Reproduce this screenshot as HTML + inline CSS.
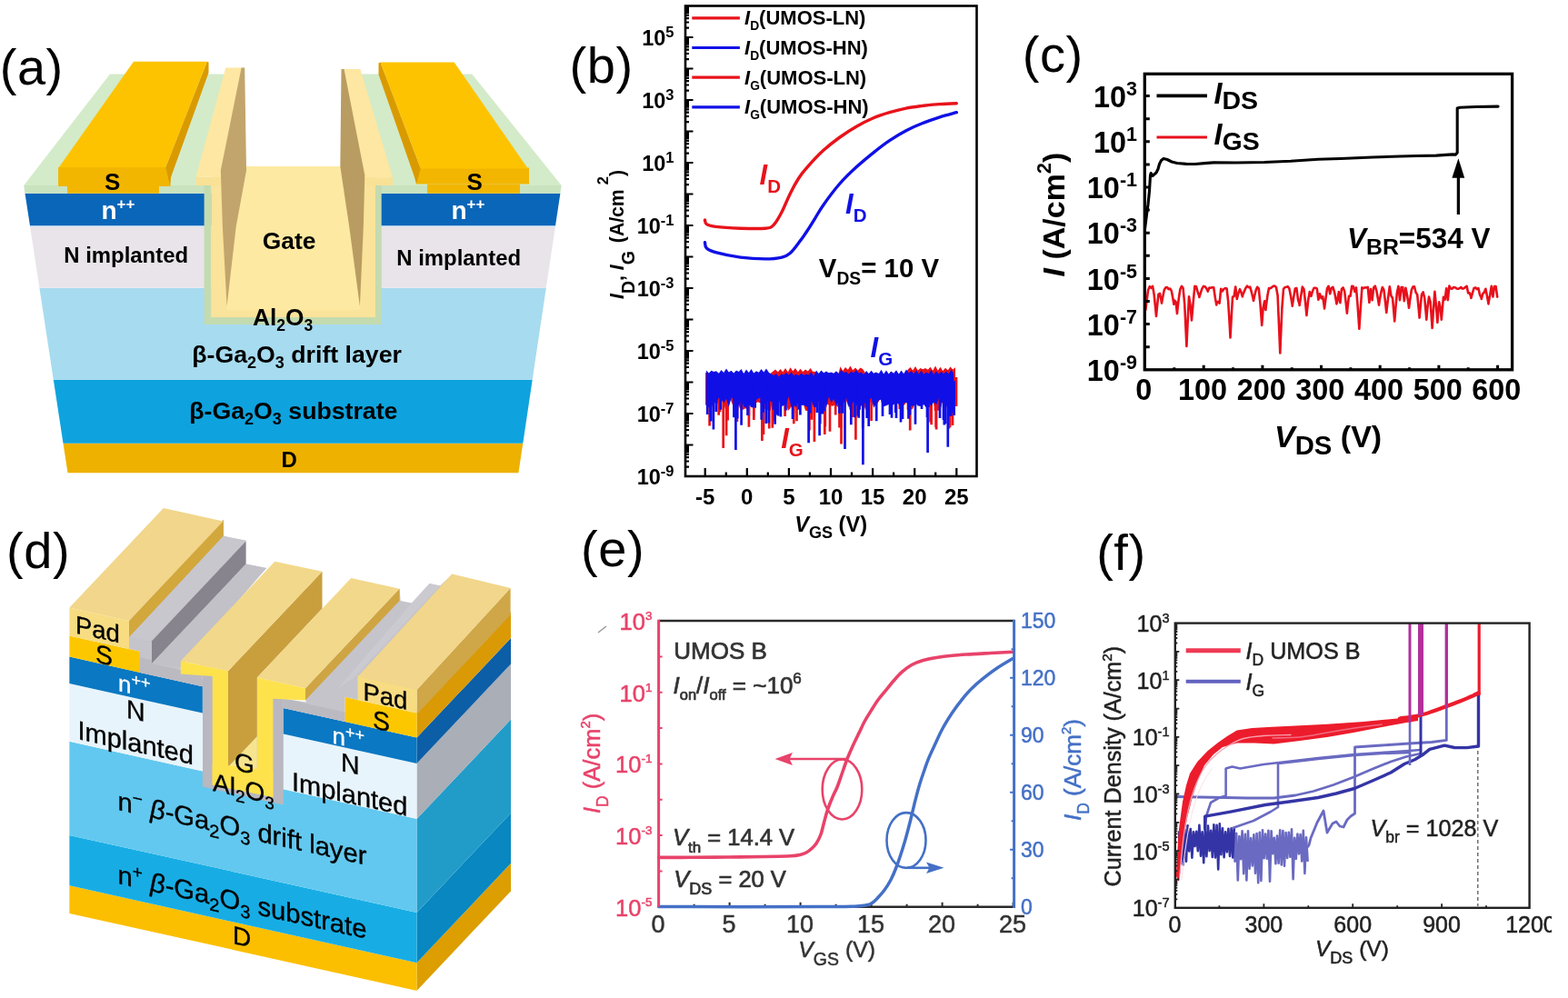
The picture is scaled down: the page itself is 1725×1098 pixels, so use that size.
<!DOCTYPE html>
<html><head><meta charset="utf-8"><title>UMOS figure</title>
<style>html,body{margin:0;padding:0;background:#fff;overflow:hidden}svg{display:block}text{font-family:'Liberation Sans', sans-serif}</style>
</head><body>
<svg width="1725" height="1098" viewBox="0 0 1725 1098">
<rect width="1725" height="1098" fill="#fff"/>
<polygon points="776.0,409.2 778.8,412.7 781.5,410.4 784.2,412.0 787.0,409.3 789.8,414.0 792.5,411.0 795.2,413.3 798.0,410.4 800.8,413.0 803.5,410.5 806.2,413.5 809.0,409.4 811.8,413.7 814.5,410.7 817.2,413.4 820.0,409.7 822.8,412.9 825.5,411.1 828.2,412.3 831.0,411.4 833.8,413.3 836.5,410.0 839.2,412.7 842.0,410.3 844.8,413.4 847.5,411.1 850.2,408.8 853.0,406.6 855.8,409.3 858.5,406.1 861.2,409.2 864.0,404.9 866.8,409.2 869.5,404.3 872.2,408.3 875.0,404.9 877.8,409.2 880.5,405.8 883.2,408.9 886.0,406.6 888.8,408.5 891.5,404.9 894.2,408.7 897.0,409.1 899.8,413.2 902.5,408.6 905.2,412.6 908.0,411.2 910.8,412.9 913.5,410.4 916.2,413.1 919.0,411.3 921.8,412.9 924.5,403.2 927.2,408.0 930.0,404.1 932.8,406.8 935.5,402.6 938.2,407.3 941.0,404.4 943.8,407.4 946.5,404.6 949.2,406.0 952.0,410.5 954.8,412.5 957.5,410.3 960.2,412.7 963.0,409.6 965.8,412.6 968.5,410.8 971.2,413.1 974.0,409.4 976.8,413.6 979.5,409.1 982.2,413.4 985.0,409.5 987.8,413.7 990.5,411.1 993.2,412.7 996.0,411.2 998.8,406.5 1001.5,404.1 1004.2,407.6 1007.0,403.1 1009.8,407.6 1012.5,404.9 1015.2,406.3 1018.0,404.9 1020.8,406.7 1023.5,403.8 1026.2,407.8 1029.0,402.5 1031.8,407.8 1034.5,403.8 1037.2,407.9 1040.0,404.7 1042.8,407.3 1045.5,403.4 1048.2,406.5 1051.0,404.3 1051.0,442.0 1048.2,439.0 1045.5,442.8 1042.8,445.3 1040.0,449.7 1037.2,441.1 1034.5,451.3 1031.8,451.8 1029.0,451.2 1026.2,440.2 1023.5,443.7 1020.8,443.8 1018.0,441.8 1015.2,442.1 1012.5,442.8 1009.8,447.0 1007.0,441.9 1004.2,449.7 1001.5,440.7 998.8,439.7 996.0,444.3 993.2,447.1 990.5,440.4 987.8,444.1 985.0,442.7 982.2,439.4 979.5,444.1 976.8,441.3 974.0,441.1 971.2,448.3 968.5,438.4 965.8,443.3 963.0,446.3 960.2,442.4 957.5,442.5 954.8,444.4 952.0,451.5 949.2,438.8 946.5,448.3 943.8,442.9 941.0,444.5 938.2,438.8 935.5,446.6 932.8,446.1 930.0,438.2 927.2,445.3 924.5,442.2 921.8,448.1 919.0,445.1 916.2,446.7 913.5,446.3 910.8,445.3 908.0,443.3 905.2,451.4 902.5,450.1 899.8,440.2 897.0,443.7 894.2,438.4 891.5,439.1 888.8,452.0 886.0,451.7 883.2,442.6 880.5,438.6 877.8,438.6 875.0,448.8 872.2,440.1 869.5,449.2 866.8,451.9 864.0,438.9 861.2,446.0 858.5,441.0 855.8,446.0 853.0,451.5 850.2,440.3 847.5,451.9 844.8,451.0 842.0,450.7 839.2,446.2 836.5,443.4 833.8,442.2 831.0,444.1 828.2,441.0 825.5,439.4 822.8,451.1 820.0,449.2 817.2,450.9 814.5,450.3 811.8,444.6 809.0,438.4 806.2,446.3 803.5,438.9 800.8,448.4 798.0,450.2 795.2,440.1 792.5,444.7 789.8,444.6 787.0,441.3 784.2,449.7 781.5,438.9 778.8,446.5 776.0,445.6" fill="#e8131b" />
<path d="M778.0,421.0V445.0M781.0,421.0V452.0M795.7,421.0V492.9M799.1,421.0V479.2M829.3,421.0V462.0M838.4,421.0V485.0M840.0,421.0V478.0M849.8,416.5V470.7M876.5,416.5V463.3M895.9,416.5V486.0M907.3,421.0V478.0M913.0,421.0V474.7M919.2,421.0V456.5M925.5,415.0V488.4M941.4,415.0V483.8M1001.2,415.0V473.6M1029.0,415.0V452.0M1045.0,415.0V470.0M1048.0,415.0V468.0M1052.0,415.0V447.0M999.0,415.0V451.1M1024.6,415.0V467.3M1030.1,415.0V472.4M1023.5,415.0V464.4M780.6,421.0V468.6M824.1,421.0V457.5M958.6,421.0V463.1M890.4,416.5V473.5M944.7,415.0V458.5M846.2,421.0V471.5M907.8,421.0V469.6M873.4,416.5V454.9M923.5,415.0V470.4M823.9,421.0V469.8M1029.6,415.0V470.2M1002.6,415.0V450.2M949.2,415.0V471.6M790.7,421.0V456.8M850.6,416.5V463.2M892.9,416.5V461.8M989.8,421.0V450.0M792.0,421.0V453.2M811.1,421.0V451.7M1044.1,415.0V471.4M800.6,421.0V462.6M863.6,416.5V457.9M873.3,416.5V466.2M937.7,415.0V459.0M829.4,421.0V458.2M810.9,421.0V463.9" stroke="#e8131b" stroke-width="2.7" fill="none"/>
<polygon points="777.0,407.4 779.8,410.6 782.5,407.7 785.2,409.1 788.0,408.3 790.8,410.8 793.5,406.9 796.2,410.1 799.0,405.5 801.8,409.6 804.5,407.8 807.2,410.6 810.0,407.4 812.8,409.0 815.5,406.1 818.2,411.0 821.0,406.4 823.8,410.1 826.5,406.1 829.2,410.4 832.0,408.2 834.8,409.7 837.5,405.9 840.2,409.6 843.0,405.5 845.8,409.7 848.5,411.5 851.2,413.1 854.0,411.1 856.8,414.5 859.5,411.2 862.2,412.5 865.0,410.1 867.8,412.5 870.5,409.5 873.2,412.9 876.0,411.8 878.8,413.2 881.5,410.6 884.2,412.7 887.0,411.4 889.8,412.6 892.5,409.3 895.2,413.7 898.0,407.5 900.8,411.1 903.5,407.5 906.2,410.2 909.0,408.6 911.8,410.3 914.5,409.5 917.2,410.8 920.0,408.3 922.8,410.9 925.5,406.7 928.2,410.1 931.0,409.0 933.8,411.5 936.5,408.4 939.2,410.2 942.0,406.9 944.8,410.6 947.5,409.5 950.2,412.0 953.0,408.0 955.8,411.0 958.5,407.7 961.2,410.8 964.0,409.4 966.8,411.0 969.5,406.8 972.2,411.6 975.0,407.6 977.8,411.5 980.5,408.5 983.2,410.7 986.0,407.3 988.8,411.5 991.5,407.4 994.2,411.3 997.0,406.5 999.8,410.5 1002.5,407.9 1005.2,411.3 1008.0,407.5 1010.8,411.5 1013.5,407.6 1016.2,411.7 1019.0,409.4 1021.8,411.0 1024.5,407.0 1027.2,411.9 1030.0,408.6 1032.8,411.5 1035.5,408.8 1038.2,411.3 1041.0,408.4 1043.8,411.3 1046.5,406.6 1049.2,410.9 1049.2,444.5 1046.5,438.1 1043.8,445.4 1041.0,446.1 1038.2,441.5 1035.5,443.6 1032.8,438.2 1030.0,445.4 1027.2,442.2 1024.5,446.9 1021.8,442.9 1019.0,448.4 1016.2,444.9 1013.5,447.0 1010.8,446.8 1008.0,444.4 1005.2,446.4 1002.5,446.6 999.8,444.7 997.0,443.1 994.2,443.5 991.5,448.3 988.8,445.0 986.0,442.3 983.2,445.2 980.5,445.9 977.8,445.0 975.0,446.2 972.2,447.3 969.5,439.5 966.8,440.4 964.0,444.2 961.2,448.8 958.5,437.9 955.8,439.8 953.0,445.5 950.2,441.9 947.5,447.1 944.8,441.9 942.0,447.0 939.2,441.6 936.5,446.2 933.8,448.3 931.0,437.7 928.2,442.4 925.5,447.9 922.8,441.5 920.0,446.7 917.2,439.1 914.5,442.9 911.8,436.6 909.0,449.0 906.2,437.9 903.5,438.3 900.8,440.1 898.0,448.0 895.2,447.9 892.5,440.4 889.8,448.3 887.0,447.2 884.2,445.7 881.5,446.1 878.8,440.6 876.0,448.2 873.2,445.8 870.5,448.4 867.8,436.6 865.0,443.5 862.2,446.2 859.5,447.0 856.8,436.3 854.0,436.7 851.2,442.3 848.5,442.2 845.8,440.0 843.0,444.8 840.2,443.8 837.5,436.8 834.8,438.2 832.0,439.9 829.2,448.6 826.5,448.2 823.8,444.8 821.0,448.5 818.2,447.3 815.5,438.8 812.8,447.3 810.0,437.6 807.2,437.8 804.5,438.1 801.8,447.9 799.0,438.8 796.2,443.5 793.5,439.2 790.8,437.5 788.0,444.4 785.2,442.1 782.5,448.0 779.8,448.3 777.0,445.6" fill="#1010e6" />
<path d="M784.9,418.0V472.4M809.4,418.0V495.1M815.6,418.0V467.8M822.5,418.0V457.0M845.8,418.0V465.6M872.0,421.5V461.0M889.6,421.5V487.2M901.6,419.0V479.2M929.5,419.0V494.0M935.8,419.0V450.8M949.4,419.0V511.2M955.7,419.0V469.0M964.2,419.0V463.3M971.0,419.0V458.0M979.0,419.0V456.0M986.0,419.0V460.0M993.0,419.0V461.0M1007.0,419.0V466.8M1014.0,419.0V450.0M1020.6,419.0V498.0M1034.0,419.0V460.0M1038.0,419.0V462.0M1042.8,419.0V491.8M1049.6,419.0V457.0M837.7,418.0V461.7M949.9,419.0V448.8M906.5,419.0V452.5M792.8,418.0V450.7M864.5,421.5V451.6M830.7,418.0V448.7M904.8,419.0V455.6M944.7,419.0V459.8M842.8,418.0V466.1M778.2,418.0V456.1M853.9,421.5V456.2M809.4,418.0V464.6M879.9,421.5V448.7M945.2,419.0V449.9M926.6,419.0V454.8M936.3,419.0V467.2M1001.0,419.0V456.4M999.5,419.0V460.8M878.7,421.5V450.8M940.4,419.0V459.3M1038.8,419.0V467.4M943.8,419.0V455.0M1021.5,419.0V448.0M807.4,418.0V459.3M945.6,419.0V450.8M949.5,419.0V465.8M880.4,421.5V456.6M839.7,418.0V453.8M1043.0,419.0V455.6M1039.9,419.0V466.3M940.4,419.0V453.2M1045.3,419.0V457.9M891.2,421.5V454.4M1046.2,419.0V457.8M856.0,421.5V457.5M811.2,418.0V460.4M898.8,419.0V453.9M991.0,419.0V464.5M781.6,418.0V458.7M852.6,421.5V466.7M991.1,419.0V452.9M850.9,421.5V451.1M1047.5,419.0V453.9M943.7,419.0V457.5M953.7,419.0V460.1M980.6,419.0V450.4M985.2,419.0V454.0M923.4,419.0V454.7M858.9,421.5V458.6M904.5,419.0V455.2M981.0,419.0V459.8M787.9,418.0V453.0M902.2,419.0V466.3M1020.0,419.0V458.9M782.0,418.0V463.6" stroke="#1010e6" stroke-width="2.7" fill="none"/>
<path d="M775.5,242.1 C775.8,242.8 775.3,245.4 777.3,246.6 C779.3,247.8 781.1,248.6 787.3,249.4 C793.5,250.2 805.5,250.9 814.6,251.2 C823.7,251.5 835.9,251.8 842.0,251.2 C848.1,250.6 848.1,250.5 851.1,247.5 C854.1,244.5 857.2,238.8 860.2,233.0 C863.2,227.2 866.3,219.0 869.3,212.9 C872.3,206.8 875.4,201.2 878.4,196.5 C881.4,191.8 883.0,189.8 887.5,184.7 C892.0,179.5 899.6,171.2 905.7,165.6 C911.8,160.0 917.8,155.4 923.9,151.0 C930.0,146.6 936.0,142.7 942.1,139.2 C948.2,135.7 954.3,132.6 960.4,130.0 C966.5,127.4 972.5,125.5 978.6,123.7 C984.7,121.9 990.7,120.3 996.8,119.1 C1002.9,117.9 1008.9,117.2 1015.0,116.4 C1021.1,115.7 1027.0,115.0 1033.2,114.6 C1039.4,114.1 1049.1,113.8 1052.3,113.7" fill="none" stroke="#e8131b" stroke-width="3.4" stroke-linecap="round" stroke-linejoin="round" />
<path d="M775.5,266.7 C775.8,267.8 775.3,271.2 777.3,273.0 C779.3,274.8 781.1,275.9 787.3,277.6 C793.5,279.3 805.5,281.9 814.6,283.1 C823.7,284.3 834.4,284.9 842.0,284.9 C849.6,284.9 855.7,284.2 860.2,283.1 C864.8,282.0 866.3,281.1 869.3,278.5 C872.3,275.9 875.4,271.6 878.4,267.6 C881.4,263.7 884.5,259.4 887.5,254.8 C890.5,250.2 893.6,245.2 896.6,240.3 C899.6,235.5 901.2,232.1 905.7,225.7 C910.2,219.3 917.8,209.0 923.9,202.0 C930.0,195.0 936.0,189.4 942.1,183.8 C948.2,178.2 954.3,173.2 960.4,168.3 C966.5,163.4 972.5,158.7 978.6,154.6 C984.7,150.5 990.7,146.9 996.8,143.7 C1002.9,140.5 1008.9,137.9 1015.0,135.5 C1021.1,133.1 1027.0,131.1 1033.2,129.1 C1039.4,127.1 1049.1,124.6 1052.3,123.7" fill="none" stroke="#1010e6" stroke-width="3.4" stroke-linecap="round" stroke-linejoin="round" />
<line x1="761.3" y1="19.8" x2="813.9" y2="19.8" stroke="#e8131b" stroke-width="3.2" />
<text x="819" y="27.4" font-size="22" font-weight="bold" font-style="normal" text-anchor="start" fill="#000" ><tspan font-style="italic">I</tspan><tspan font-size="13.8" baseline-shift="-5.5" font-style="normal">D</tspan>(UMOS-LN)</text>
<line x1="761.3" y1="52.5" x2="813.9" y2="52.5" stroke="#1010e6" stroke-width="3.2" />
<text x="819" y="60.07" font-size="22" font-weight="bold" font-style="normal" text-anchor="start" fill="#000" ><tspan font-style="italic">I</tspan><tspan font-size="13.8" baseline-shift="-5.5" font-style="normal">D</tspan>(UMOS-HN)</text>
<line x1="761.3" y1="85.1" x2="813.9" y2="85.1" stroke="#e8131b" stroke-width="3.2" />
<text x="819" y="92.74" font-size="22" font-weight="bold" font-style="normal" text-anchor="start" fill="#000" ><tspan font-style="italic">I</tspan><tspan font-size="13.8" baseline-shift="-5.5" font-style="normal">G</tspan>(UMOS-LN)</text>
<line x1="761.3" y1="117.8" x2="813.9" y2="117.8" stroke="#1010e6" stroke-width="3.2" />
<text x="819" y="125.41" font-size="22" font-weight="bold" font-style="normal" text-anchor="start" fill="#000" ><tspan font-style="italic">I</tspan><tspan font-size="13.8" baseline-shift="-5.5" font-style="normal">G</tspan>(UMOS-HN)</text>
<rect x="754.0" y="6.5" width="320.5" height="517.5" fill="none" stroke="#000" stroke-width="2.6"/>
<path d="M754.0,524.0h8.5M754.0,513.6h4M754.0,507.5h4M754.0,503.2h4M754.0,499.9h4M754.0,497.2h4M754.0,494.8h4M754.0,492.8h4M754.0,491.1h4M754.0,489.5h8.5M754.0,479.1h4M754.0,473.0h4M754.0,468.7h4M754.0,465.4h4M754.0,462.7h4M754.0,460.3h4M754.0,458.3h4M754.0,456.6h4M754.0,455.0h8.5M754.0,444.6h4M754.0,438.5h4M754.0,434.2h4M754.0,430.9h4M754.0,428.2h4M754.0,425.8h4M754.0,423.8h4M754.0,422.1h4M754.0,420.5h8.5M754.0,410.1h4M754.0,404.0h4M754.0,399.7h4M754.0,396.4h4M754.0,393.7h4M754.0,391.3h4M754.0,389.3h4M754.0,387.6h4M754.0,386.0h8.5M754.0,375.6h4M754.0,369.5h4M754.0,365.2h4M754.0,361.9h4M754.0,359.2h4M754.0,356.8h4M754.0,354.8h4M754.0,353.1h4M754.0,351.5h8.5M754.0,341.1h4M754.0,335.0h4M754.0,330.7h4M754.0,327.4h4M754.0,324.7h4M754.0,322.3h4M754.0,320.3h4M754.0,318.6h4M754.0,317.0h8.5M754.0,306.6h4M754.0,300.5h4M754.0,296.2h4M754.0,292.9h4M754.0,290.2h4M754.0,287.8h4M754.0,285.8h4M754.0,284.1h4M754.0,282.5h8.5M754.0,272.1h4M754.0,266.0h4M754.0,261.7h4M754.0,258.4h4M754.0,255.7h4M754.0,253.3h4M754.0,251.3h4M754.0,249.6h4M754.0,248.0h8.5M754.0,237.6h4M754.0,231.5h4M754.0,227.2h4M754.0,223.9h4M754.0,221.2h4M754.0,218.8h4M754.0,216.8h4M754.0,215.1h4M754.0,213.5h8.5M754.0,203.1h4M754.0,197.0h4M754.0,192.7h4M754.0,189.4h4M754.0,186.7h4M754.0,184.3h4M754.0,182.3h4M754.0,180.6h4M754.0,179.0h8.5M754.0,168.6h4M754.0,162.5h4M754.0,158.2h4M754.0,154.9h4M754.0,152.2h4M754.0,149.8h4M754.0,147.8h4M754.0,146.1h4M754.0,144.5h8.5M754.0,134.1h4M754.0,128.0h4M754.0,123.7h4M754.0,120.4h4M754.0,117.7h4M754.0,115.3h4M754.0,113.3h4M754.0,111.6h4M754.0,110.0h8.5M754.0,99.6h4M754.0,93.5h4M754.0,89.2h4M754.0,85.9h4M754.0,83.2h4M754.0,80.8h4M754.0,78.8h4M754.0,77.1h4M754.0,75.5h8.5M754.0,65.1h4M754.0,59.0h4M754.0,54.7h4M754.0,51.4h4M754.0,48.7h4M754.0,46.3h4M754.0,44.3h4M754.0,42.6h4M754.0,41.0h8.5M754.0,30.6h4M754.0,24.5h4M754.0,20.2h4M754.0,16.9h4M754.0,14.2h4M754.0,11.8h4M754.0,9.8h4M754.0,8.1h4M775.7,524.0v-9M821.8,524.0v-9M867.9,524.0v-9M914.0,524.0v-9M960.1,524.0v-9M1006.2,524.0v-9M1052.3,524.0v-9M798.8,524.0v-4.5M844.8,524.0v-4.5M890.9,524.0v-4.5M937.0,524.0v-4.5M983.1,524.0v-4.5M1029.2,524.0v-4.5" stroke="#000" stroke-width="2.2" fill="none"/>
<text x="741.5" y="49.6" font-size="23.5" font-weight="bold" font-style="normal" text-anchor="end" fill="#000" >10<tspan font-size="16.5" baseline-shift="9.5">5</tspan></text>
<text x="741.5" y="118.6" font-size="23.5" font-weight="bold" font-style="normal" text-anchor="end" fill="#000" >10<tspan font-size="16.5" baseline-shift="9.5">3</tspan></text>
<text x="741.5" y="187.6" font-size="23.5" font-weight="bold" font-style="normal" text-anchor="end" fill="#000" >10<tspan font-size="16.5" baseline-shift="9.5">1</tspan></text>
<text x="741.5" y="256.6" font-size="23.5" font-weight="bold" font-style="normal" text-anchor="end" fill="#000" >10<tspan font-size="16.5" baseline-shift="9.5">-1</tspan></text>
<text x="741.5" y="325.6" font-size="23.5" font-weight="bold" font-style="normal" text-anchor="end" fill="#000" >10<tspan font-size="16.5" baseline-shift="9.5">-3</tspan></text>
<text x="741.5" y="394.6" font-size="23.5" font-weight="bold" font-style="normal" text-anchor="end" fill="#000" >10<tspan font-size="16.5" baseline-shift="9.5">-5</tspan></text>
<text x="741.5" y="463.6" font-size="23.5" font-weight="bold" font-style="normal" text-anchor="end" fill="#000" >10<tspan font-size="16.5" baseline-shift="9.5">-7</tspan></text>
<text x="741.5" y="532.6" font-size="23.5" font-weight="bold" font-style="normal" text-anchor="end" fill="#000" >10<tspan font-size="16.5" baseline-shift="9.5">-9</tspan></text>
<text x="775.6999999999999" y="554.6" font-size="24" font-weight="bold" font-style="normal" text-anchor="middle" fill="#000" >-5</text>
<text x="821.8" y="554.6" font-size="24" font-weight="bold" font-style="normal" text-anchor="middle" fill="#000" >0</text>
<text x="867.9" y="554.6" font-size="24" font-weight="bold" font-style="normal" text-anchor="middle" fill="#000" >5</text>
<text x="914.0" y="554.6" font-size="24" font-weight="bold" font-style="normal" text-anchor="middle" fill="#000" >10</text>
<text x="960.0999999999999" y="554.6" font-size="24" font-weight="bold" font-style="normal" text-anchor="middle" fill="#000" >15</text>
<text x="1006.1999999999999" y="554.6" font-size="24" font-weight="bold" font-style="normal" text-anchor="middle" fill="#000" >20</text>
<text x="1052.3" y="554.6" font-size="24" font-weight="bold" font-style="normal" text-anchor="middle" fill="#000" >25</text>
<text x="874.3" y="584.6" font-size="23.6" font-weight="bold" font-style="normal" text-anchor="start" fill="#000" ><tspan font-style="italic">V</tspan><tspan font-size="18" baseline-shift="-7.3" font-style="normal">GS</tspan> (V)</text>
<text x="685.5" y="329" font-size="21.2" font-weight="bold" font-style="normal" text-anchor="start" fill="#000" transform="rotate(-90 685.5 329)" ><tspan font-style="italic">I</tspan><tspan font-size="19.5" baseline-shift="-12" font-style="normal">D</tspan>, <tspan font-style="italic">I</tspan><tspan font-size="19.5" baseline-shift="-12" font-style="normal">G</tspan><tspan dx="9">(A/cm</tspan><tspan dx="5" font-size="16.5" baseline-shift="17">2</tspan>)</text>
<text x="835.5" y="203.3" font-size="31" font-weight="bold" font-style="normal" text-anchor="start" fill="#e8131b" ><tspan font-style="italic">I</tspan><tspan font-size="20.5" baseline-shift="-8.6" font-style="normal">D</tspan></text>
<text x="930" y="235.3" font-size="31" font-weight="bold" font-style="normal" text-anchor="start" fill="#1010e6" ><tspan font-style="italic">I</tspan><tspan font-size="20.5" baseline-shift="-8.6" font-style="normal">D</tspan></text>
<text x="957.6" y="393.4" font-size="31" font-weight="bold" font-style="normal" text-anchor="start" fill="#1010e6" ><tspan font-style="italic">I</tspan><tspan font-size="20.5" baseline-shift="-9" font-style="normal">G</tspan></text>
<text x="859.2" y="493.1" font-size="31" font-weight="bold" font-style="normal" text-anchor="start" fill="#e8131b" ><tspan font-style="italic">I</tspan><tspan font-size="20.5" baseline-shift="-8.6" font-style="normal">G</tspan></text>
<text x="900.8" y="305.4" font-size="29.4" font-weight="bold" font-style="normal" text-anchor="start" fill="#000" >V<tspan font-size="19.3" baseline-shift="-8" font-style="normal">DS</tspan>= 10 V</text>
<polyline points="1260.0,337.8 1260.3,341.0 1261.6,330.5 1263.2,318.7 1264.8,315.2 1266.4,316.8 1268.0,314.8 1269.6,323.8 1271.2,339.3 1272.0,348.0 1272.8,339.3 1274.4,323.8 1276.0,322.9 1277.6,330.7 1278.0,333.6 1279.2,326.8 1280.8,319.0 1282.4,316.3 1284.0,316.1 1285.6,318.1 1287.2,317.5 1288.8,320.1 1290.4,328.5 1291.4,334.8 1292.0,330.6 1293.6,331.9 1295.0,345.0 1295.2,342.3 1296.8,328.4 1298.4,318.0 1300.0,314.8 1301.6,317.3 1303.2,334.5 1304.8,367.6 1305.4,381.0 1306.4,359.3 1308.0,326.3 1309.6,335.9 1311.0,352.5 1311.2,349.3 1312.8,331.4 1314.4,314.9 1316.0,315.3 1317.6,321.2 1319.2,325.5 1319.4,327.0 1320.8,322.3 1322.4,317.6 1324.0,314.9 1325.6,315.3 1327.2,317.3 1328.8,320.6 1330.4,316.6 1332.0,316.7 1333.6,316.1 1335.2,316.2 1336.8,327.2 1338.3,335.4 1338.4,333.9 1340.0,331.9 1341.6,333.6 1343.2,317.7 1344.8,320.3 1346.4,318.0 1348.0,317.0 1349.6,317.5 1351.2,331.8 1352.8,358.2 1353.5,371.4 1354.4,354.7 1356.0,326.7 1357.6,326.1 1359.2,315.5 1360.8,329.0 1362.4,322.5 1364.0,318.2 1365.6,322.1 1366.9,326.3 1367.2,324.6 1368.8,320.7 1370.4,317.0 1372.0,314.6 1373.6,316.2 1375.2,315.6 1376.8,321.2 1378.4,327.6 1379.0,331.0 1380.0,326.0 1381.6,319.6 1383.2,315.8 1384.8,317.7 1386.4,333.6 1388.0,354.4 1388.2,358.0 1389.6,338.8 1391.2,331.2 1392.4,341.0 1392.8,337.1 1394.4,325.3 1396.0,317.1 1397.6,317.1 1399.2,316.1 1400.8,314.8 1402.4,314.6 1404.0,316.2 1405.6,324.9 1407.2,362.0 1408.3,388.4 1408.8,375.8 1410.4,338.8 1412.0,317.8 1413.6,316.1 1415.2,315.7 1416.8,315.2 1418.4,317.4 1420.0,325.7 1421.6,335.1 1421.7,336.7 1423.2,326.9 1424.8,317.5 1426.4,317.1 1428.0,329.6 1429.6,335.0 1429.6,336.0 1431.2,325.9 1432.8,315.6 1434.4,318.0 1436.0,332.0 1437.5,347.0 1437.6,345.1 1439.2,330.1 1440.8,321.0 1442.4,325.8 1444.0,320.3 1445.6,316.8 1447.2,316.8 1448.8,317.4 1450.4,329.8 1452.0,323.3 1453.6,328.2 1455.2,326.2 1456.8,337.1 1457.0,339.5 1458.4,328.9 1460.0,317.4 1461.6,314.8 1463.2,323.2 1464.8,316.8 1466.4,315.9 1468.0,321.1 1469.6,329.3 1470.4,334.4 1471.2,331.8 1472.8,321.1 1474.4,333.2 1476.0,318.0 1477.6,316.4 1479.2,320.6 1480.8,334.2 1481.9,344.6 1482.4,339.3 1484.0,325.7 1485.6,325.7 1487.2,314.7 1488.8,315.1 1490.4,321.0 1492.0,316.4 1493.6,336.5 1495.2,359.4 1495.3,361.8 1496.8,339.4 1498.4,316.4 1500.0,317.1 1501.6,316.4 1503.2,316.5 1504.8,315.9 1506.4,332.8 1508.0,318.0 1509.6,330.3 1511.2,316.3 1512.8,314.6 1514.4,320.2 1516.0,329.1 1517.0,335.6 1517.6,331.3 1519.2,322.4 1520.8,316.0 1522.4,318.8 1524.0,332.2 1525.3,344.0 1525.6,340.5 1527.2,327.2 1528.8,315.2 1530.4,325.5 1532.0,327.8 1533.6,345.6 1534.2,353.5 1535.2,341.0 1536.8,322.6 1538.4,314.9 1540.0,330.2 1541.6,316.1 1543.2,316.0 1544.8,331.1 1546.4,316.8 1548.0,324.6 1549.6,335.2 1550.0,338.8 1551.2,329.9 1552.8,319.3 1554.4,315.6 1556.0,315.3 1557.6,321.7 1559.2,324.1 1560.8,340.5 1561.6,349.7 1562.4,340.5 1564.0,324.1 1565.6,321.4 1567.2,327.8 1568.8,345.2 1569.3,351.6 1570.4,338.6 1572.0,326.6 1573.6,332.0 1575.2,354.4 1575.6,361.0 1576.8,343.2 1578.4,320.8 1580.0,337.1 1581.4,354.8 1581.6,351.4 1583.2,332.3 1584.8,339.7 1585.8,351.6 1586.4,344.1 1588.0,326.7 1589.6,329.6 1591.2,317.2 1592.8,330.1 1594.4,314.6 1596.0,317.4 1597.6,317.6 1599.2,316.0 1600.8,316.3 1602.4,317.4 1604.0,317.8 1605.6,317.3 1607.2,316.0 1608.8,317.7 1610.4,317.3 1612.0,316.0 1613.6,314.8 1615.2,322.5 1616.8,322.2 1618.4,327.0 1618.4,328.0 1620.0,322.2 1621.6,316.9 1623.2,316.4 1624.8,318.1 1626.4,317.0 1628.0,324.3 1629.6,327.3 1629.8,329.0 1631.2,323.3 1632.8,321.8 1634.4,317.8 1636.0,325.7 1637.5,334.4 1637.6,332.9 1639.2,324.7 1640.8,314.8 1642.4,326.5 1644.0,315.1 1645.6,315.1 1647.2,326.6" fill="none" stroke="#e8101c" stroke-width="2.6" stroke-linejoin="round" stroke-linecap="round" />
<polyline points="1259.5,252.0 1261.5,236.0 1263.0,225.0 1264.5,210.0 1265.5,193.0 1266.2,190.5 1268.0,193.5 1272.0,190.0 1274.0,186.0 1275.5,180.5 1277.5,176.5 1280.0,174.6 1284.0,175.5 1289.0,178.0 1295.0,179.5 1305.0,180.4 1315.0,180.5 1325.0,179.6 1335.0,178.9 1360.0,179.0 1391.0,178.5 1420.0,177.3 1450.0,175.3 1475.0,174.5 1510.0,173.0 1540.0,172.0 1558.8,171.5 1580.0,171.1 1598.0,169.9 1601.5,170.1 1603.2,168.0 1603.2,119.0 1606.2,118.2 1623.7,117.5 1648.1,117.1" fill="none" stroke="#000" stroke-width="3.1" stroke-linejoin="round" stroke-linecap="round" />
<line x1="1604.4" y1="236.0" x2="1604.4" y2="194.0" stroke="#000" stroke-width="3.3" />
<polygon points="1604.4,174.2 1597.4,195.8 1611.2,195.8" fill="#000" />
<line x1="1272.5" y1="105.4" x2="1328.0" y2="105.4" stroke="#000" stroke-width="3.6" />
<line x1="1272.5" y1="150.9" x2="1328.0" y2="150.9" stroke="#e8101c" stroke-width="3.0" />
<text x="1335.5" y="113.6" font-size="32.4" font-weight="bold" font-style="normal" text-anchor="start" fill="#000" ><tspan font-style="italic">I</tspan><tspan font-size="28.5" baseline-shift="-6.2" font-style="normal">DS</tspan></text>
<text x="1335.5" y="158.9" font-size="32.4" font-weight="bold" font-style="normal" text-anchor="start" fill="#000" ><tspan font-style="italic">I</tspan><tspan font-size="28.5" baseline-shift="-6.2" font-style="normal">GS</tspan></text>
<rect x="1259.3" y="81.3" width="404.29999999999995" height="325.5" fill="none" stroke="#000" stroke-width="3.3"/>
<path d="M1259.3,381.7h5.5M1259.3,356.6h5.5M1259.3,331.5h5.5M1259.3,306.4h5.5M1259.3,281.3h5.5M1259.3,256.2h5.5M1259.3,231.1h5.5M1259.3,206.0h5.5M1259.3,180.9h5.5M1259.3,155.8h5.5M1259.3,130.7h5.5M1259.3,105.6h5.5M1324.2,406.8v-5M1388.9,406.8v-5M1453.5,406.8v-5M1518.2,406.8v-5M1582.9,406.8v-5M1647.6,406.8v-5M1291.8,406.8v-2.5M1356.5,406.8v-2.5M1421.2,406.8v-2.5M1485.9,406.8v-2.5M1550.6,406.8v-2.5M1615.2,406.8v-2.5" stroke="#000" stroke-width="3" fill="none"/>
<text x="1251" y="117.8" font-size="32.4" font-weight="bold" font-style="normal" text-anchor="end" fill="#000" >10<tspan font-size="21.5" baseline-shift="12.8">3</tspan></text>
<text x="1251" y="168.0" font-size="32.4" font-weight="bold" font-style="normal" text-anchor="end" fill="#000" >10<tspan font-size="21.5" baseline-shift="12.8">1</tspan></text>
<text x="1251" y="218.2" font-size="32.4" font-weight="bold" font-style="normal" text-anchor="end" fill="#000" >10<tspan font-size="21.5" baseline-shift="12.8">-1</tspan></text>
<text x="1251" y="268.40000000000003" font-size="32.4" font-weight="bold" font-style="normal" text-anchor="end" fill="#000" >10<tspan font-size="21.5" baseline-shift="12.8">-3</tspan></text>
<text x="1251" y="318.59999999999997" font-size="32.4" font-weight="bold" font-style="normal" text-anchor="end" fill="#000" >10<tspan font-size="21.5" baseline-shift="12.8">-5</tspan></text>
<text x="1251" y="368.8" font-size="32.4" font-weight="bold" font-style="normal" text-anchor="end" fill="#000" >10<tspan font-size="21.5" baseline-shift="12.8">-7</tspan></text>
<text x="1251" y="419.00000000000006" font-size="32.4" font-weight="bold" font-style="normal" text-anchor="end" fill="#000" >10<tspan font-size="21.5" baseline-shift="12.8">-9</tspan></text>
<text x="1258.3" y="439.5" font-size="32.4" font-weight="bold" font-style="normal" text-anchor="middle" fill="#000" >0</text>
<text x="1322.98" y="439.5" font-size="32.4" font-weight="bold" font-style="normal" text-anchor="middle" fill="#000" >100</text>
<text x="1387.66" y="439.5" font-size="32.4" font-weight="bold" font-style="normal" text-anchor="middle" fill="#000" >200</text>
<text x="1452.34" y="439.5" font-size="32.4" font-weight="bold" font-style="normal" text-anchor="middle" fill="#000" >300</text>
<text x="1517.02" y="439.5" font-size="32.4" font-weight="bold" font-style="normal" text-anchor="middle" fill="#000" >400</text>
<text x="1581.7" y="439.5" font-size="32.4" font-weight="bold" font-style="normal" text-anchor="middle" fill="#000" >500</text>
<text x="1646.3799999999999" y="439.5" font-size="32.4" font-weight="bold" font-style="normal" text-anchor="middle" fill="#000" >600</text>
<text x="1402" y="492" font-size="34" font-weight="bold" font-style="normal" text-anchor="start" fill="#000" ><tspan font-style="italic">V</tspan><tspan font-size="29.3" baseline-shift="-8" font-style="normal">DS</tspan> (V)</text>
<text x="1171" y="304.5" font-size="34" font-weight="bold" font-style="normal" text-anchor="start" fill="#000" transform="rotate(-90 1171 304.5)" ><tspan font-style="italic">I</tspan> (A/cm<tspan font-size="22" baseline-shift="15">2</tspan>)</text>
<text x="1482" y="272.5" font-size="31.5" font-weight="bold" font-style="normal" text-anchor="start" fill="#000" ><tspan font-style="italic">V</tspan><tspan font-size="24.8" baseline-shift="-7.1" font-style="normal">BR</tspan>=534 V</text>
<line x1="724.6" y1="683.0" x2="1115.6" y2="683.0" stroke="#2a2a2a" stroke-width="2.6" />
<line x1="724.6" y1="997.8" x2="1115.6" y2="997.8" stroke="#2a2a2a" stroke-width="2.6" />
<path d="M802.6,997.8v-5M880.6,997.8v-5M958.6,997.8v-5M1036.6,997.8v-5M1114.6,997.8v-5M763.6,997.8v-3M841.6,997.8v-3M919.6,997.8v-3M997.6,997.8v-3M1075.6,997.8v-3" stroke="#2a2a2a" stroke-width="2" fill="none"/>
<path d="M724.6,997.6 C753.8,997.6 864.1,997.7 900.0,997.6 C935.9,997.5 931.3,997.5 940.0,997.2 C948.7,996.9 948.9,996.5 952.0,996.0 C955.1,995.5 956.2,995.5 958.4,994.2 C960.6,993.0 962.6,991.0 965.0,988.5 C967.4,986.0 970.5,982.7 973.0,979.3 C975.5,975.9 977.9,972.0 980.0,968.0 C982.1,964.0 983.9,959.7 985.7,955.0 C987.5,950.3 989.3,945.2 991.0,940.0 C992.7,934.8 994.3,929.6 996.0,923.8 C997.7,918.0 999.2,912.0 1001.0,905.0 C1002.8,898.0 1004.8,889.1 1006.6,881.9 C1008.4,874.7 1010.4,867.3 1012.0,862.0 C1013.6,856.7 1014.4,854.5 1016.0,850.0 C1017.6,845.5 1019.1,840.5 1021.4,834.8 C1023.7,829.1 1027.5,821.5 1030.0,816.0 C1032.5,810.5 1033.9,807.2 1036.7,802.0 C1039.5,796.8 1043.4,790.5 1047.0,785.0 C1050.6,779.5 1054.8,773.9 1058.5,769.3 C1062.2,764.7 1065.3,761.1 1069.0,757.5 C1072.7,753.9 1075.7,751.1 1080.4,747.4 C1085.1,743.6 1091.3,738.8 1097.0,735.0 C1102.7,731.2 1111.4,726.2 1114.3,724.5" fill="none" stroke="#4470c6" stroke-width="3.5" stroke-linecap="round" stroke-linejoin="round" />
<path d="M724.6,943.4 C730.5,943.4 747.4,943.4 760.0,943.3 C772.6,943.2 786.7,943.1 800.0,943.0 C813.3,942.9 828.3,942.7 840.0,942.5 C851.7,942.3 863.3,942.1 870.0,941.8 C876.7,941.5 877.2,941.1 880.0,940.5 C882.8,939.9 884.8,939.2 887.0,938.0 C889.2,936.8 891.2,935.2 893.0,933.5 C894.8,931.8 896.3,930.6 898.0,928.0 C899.7,925.4 901.6,921.8 903.0,918.0 C904.4,914.2 905.4,909.0 906.5,905.0 C907.6,901.0 908.4,897.5 909.5,894.0 C910.6,890.5 911.8,887.2 913.0,884.0 C914.2,880.8 915.7,877.5 917.0,874.5 C918.3,871.5 919.5,869.8 921.0,866.0 C922.5,862.2 924.2,857.1 926.0,852.0 C927.8,846.9 929.8,840.7 931.8,835.5 C933.8,830.3 935.8,825.9 938.0,821.0 C940.2,816.1 942.8,810.9 945.0,806.4 C947.2,801.9 948.8,798.0 951.0,794.0 C953.2,790.0 955.5,786.4 958.0,782.4 C960.5,778.4 963.1,774.0 966.0,770.0 C968.9,766.0 972.5,762.0 975.5,758.3 C978.5,754.6 981.1,751.3 984.0,748.0 C986.9,744.7 989.8,741.5 993.0,738.7 C996.2,736.0 999.4,733.5 1003.0,731.5 C1006.6,729.5 1010.3,728.0 1014.8,726.7 C1019.3,725.4 1024.5,724.4 1030.0,723.5 C1035.5,722.6 1040.9,721.9 1047.6,721.2 C1054.3,720.6 1062.9,720.1 1070.0,719.6 C1077.1,719.1 1082.6,718.9 1090.0,718.5 C1097.4,718.1 1110.2,717.5 1114.3,717.3" fill="none" stroke="#e8436a" stroke-width="3.6" stroke-linecap="round" stroke-linejoin="round" />
<line x1="724.6" y1="681.8" x2="724.6" y2="997.8" stroke="#e8436a" stroke-width="3.0" />
<line x1="1115.6" y1="681.8" x2="1115.6" y2="999.0" stroke="#4470c6" stroke-width="3.0" />
<path d="M724.6,958.5h4M724.6,919.1h4M724.6,879.8h4M724.6,840.4h4M724.6,801.0h4M724.6,761.7h4M724.6,722.4h4" stroke="#e8436a" stroke-width="2" fill="none"/>
<path d="M1115.6,934.8h-4.5M1115.6,871.8h-4.5M1115.6,808.8h-4.5M1115.6,745.8h-4.5M1115.6,966.3h-3M1115.6,903.3h-3M1115.6,840.3h-3M1115.6,777.3h-3M1115.6,714.3h-3" stroke="#4470c6" stroke-width="2" fill="none"/>
<ellipse cx="926.5" cy="868.5" rx="21.8" ry="33" fill="none" stroke="#e8436a" stroke-width="2.6"/>
<line x1="931.8" y1="835.0" x2="866.0" y2="835.0" stroke="#e8436a" stroke-width="2.6" />
<polygon points="852.5,835.0 872.0,828.0 868.5,835.0 872.0,842.0" fill="#e8436a" />
<ellipse cx="997" cy="924.5" rx="21.5" ry="30.4" fill="none" stroke="#4470c6" stroke-width="2.6"/>
<line x1="998.0" y1="954.8" x2="1024.0" y2="954.8" stroke="#4470c6" stroke-width="2.6" />
<polygon points="1038.5,954.8 1019.0,948.5 1022.5,954.8 1019.0,961.0" fill="#4470c6" />
<text x="717.5" y="692.8" font-size="25.5" font-weight="normal" font-style="normal" text-anchor="end" fill="#e8436a" stroke="#e8436a" stroke-width="0.5">10<tspan font-size="13.5" baseline-shift="11.5">3</tspan></text>
<text x="717.5" y="771.5" font-size="25.5" font-weight="normal" font-style="normal" text-anchor="end" fill="#e8436a" stroke="#e8436a" stroke-width="0.5">10<tspan font-size="13.5" baseline-shift="11.5">1</tspan></text>
<text x="717.5" y="850.1999999999999" font-size="25.5" font-weight="normal" font-style="normal" text-anchor="end" fill="#e8436a" stroke="#e8436a" stroke-width="0.5">10<tspan font-size="13.5" baseline-shift="11.5">-1</tspan></text>
<text x="717.5" y="928.9" font-size="25.5" font-weight="normal" font-style="normal" text-anchor="end" fill="#e8436a" stroke="#e8436a" stroke-width="0.5">10<tspan font-size="13.5" baseline-shift="11.5">-3</tspan></text>
<text x="717.5" y="1007.5999999999999" font-size="25.5" font-weight="normal" font-style="normal" text-anchor="end" fill="#e8436a" stroke="#e8436a" stroke-width="0.5">10<tspan font-size="13.5" baseline-shift="11.5">-5</tspan></text>
<text x="1123" y="1006.4" font-size="23" font-weight="normal" font-style="normal" text-anchor="start" fill="#4470c6" stroke="#4470c6" stroke-width="0.5">0</text>
<text x="1123" y="943.4" font-size="23" font-weight="normal" font-style="normal" text-anchor="start" fill="#4470c6" stroke="#4470c6" stroke-width="0.5">30</text>
<text x="1123" y="880.4" font-size="23" font-weight="normal" font-style="normal" text-anchor="start" fill="#4470c6" stroke="#4470c6" stroke-width="0.5">60</text>
<text x="1123" y="817.4" font-size="23" font-weight="normal" font-style="normal" text-anchor="start" fill="#4470c6" stroke="#4470c6" stroke-width="0.5">90</text>
<text x="1123" y="754.4" font-size="23" font-weight="normal" font-style="normal" text-anchor="start" fill="#4470c6" stroke="#4470c6" stroke-width="0.5">120</text>
<text x="1123" y="691.4" font-size="23" font-weight="normal" font-style="normal" text-anchor="start" fill="#4470c6" stroke="#4470c6" stroke-width="0.5">150</text>
<text x="724.1" y="1026.2" font-size="27" font-weight="normal" font-style="normal" text-anchor="middle" fill="#333" stroke="#333" stroke-width="0.5">0</text>
<text x="802.1" y="1026.2" font-size="27" font-weight="normal" font-style="normal" text-anchor="middle" fill="#333" stroke="#333" stroke-width="0.5">5</text>
<text x="880.1" y="1026.2" font-size="27" font-weight="normal" font-style="normal" text-anchor="middle" fill="#333" stroke="#333" stroke-width="0.5">10</text>
<text x="958.1" y="1026.2" font-size="27" font-weight="normal" font-style="normal" text-anchor="middle" fill="#333" stroke="#333" stroke-width="0.5">15</text>
<text x="1036.1" y="1026.2" font-size="27" font-weight="normal" font-style="normal" text-anchor="middle" fill="#333" stroke="#333" stroke-width="0.5">20</text>
<text x="1114.1" y="1026.2" font-size="27" font-weight="normal" font-style="normal" text-anchor="middle" fill="#333" stroke="#333" stroke-width="0.5">25</text>
<text x="878.3" y="1052.5" font-size="24.8" font-weight="normal" font-style="normal" text-anchor="start" fill="#333" stroke="#333" stroke-width="0.5"><tspan font-style="italic">V</tspan><tspan font-size="19.5" baseline-shift="-8.7" font-style="normal">GS</tspan> (V)</text>
<text x="660" y="895" font-size="25.5" font-weight="normal" font-style="normal" text-anchor="start" fill="#e8436a" transform="rotate(-90 660 895)" stroke="#e8436a" stroke-width="0.5"><tspan font-style="italic">I</tspan><tspan font-size="17.5" baseline-shift="-8.6" font-style="normal">D</tspan> (A/cm<tspan font-size="15" baseline-shift="11">2</tspan>)</text>
<text x="1188.5" y="903" font-size="26" font-weight="normal" font-style="normal" text-anchor="start" fill="#4470c6" transform="rotate(-90 1188.5 903)" stroke="#4470c6" stroke-width="0.5"><tspan font-style="italic">I</tspan><tspan font-size="17.5" baseline-shift="-8.6" font-style="normal">D</tspan> (A/cm<tspan font-size="15" baseline-shift="11">2</tspan>)</text>
<text x="741.3" y="724.7" font-size="26" font-weight="normal" font-style="normal" text-anchor="start" fill="#333" stroke="#333" stroke-width="0.7">UMOS B</text>
<text x="740.5" y="762.7" font-size="26" font-weight="normal" font-style="normal" text-anchor="start" fill="#333" stroke="#333" stroke-width="0.7"><tspan font-style="italic">I</tspan><tspan font-size="16.5" baseline-shift="-6.5" font-style="normal">on</tspan>/<tspan font-style="italic">I</tspan><tspan font-size="16.5" baseline-shift="-6.5" font-style="normal">off</tspan> = ~10<tspan font-size="17" baseline-shift="11">6</tspan></text>
<text x="740" y="930.1" font-size="25.5" font-weight="normal" font-style="normal" text-anchor="start" fill="#333" stroke="#333" stroke-width="0.7"><tspan font-style="italic">V</tspan><tspan font-size="17" baseline-shift="-7.5" font-style="normal">th</tspan> = 14.4 V</text>
<text x="741.3" y="975.6" font-size="25.5" font-weight="normal" font-style="normal" text-anchor="start" fill="#333" stroke="#333" stroke-width="0.7"><tspan font-style="italic">V</tspan><tspan font-size="18" baseline-shift="-8" font-style="normal">DS</tspan> = 20 V</text>
<line x1="658.0" y1="696.0" x2="667.0" y2="689.0" stroke="#999" stroke-width="1.5" />
<defs><clipPath id="fclip"><rect x="1185" y="560" width="522" height="540"/></clipPath></defs>
<polyline points="1357.0,913.6 1358.6,947.7 1360.2,916.8 1361.8,968.5 1363.4,920.1 1365.0,945.1 1366.6,914.4 1368.2,961.3 1369.8,917.9 1371.4,968.5 1373.0,914.3 1374.6,955.7 1376.2,922.0 1377.8,952.5 1379.4,918.2 1381.0,960.6 1382.6,917.0 1384.2,971.2 1385.8,915.7 1387.4,968.9 1389.0,913.2 1390.6,944.1 1392.2,917.5 1393.8,944.7 1395.4,913.9 1397.0,969.7 1398.6,914.3 1400.2,939.2 1401.8,921.7 1403.4,950.1 1405.0,919.6 1406.6,949.6 1408.2,913.2 1409.8,951.5 1411.4,914.0 1413.0,952.8 1414.6,916.1 1416.2,944.0 1417.8,915.9 1419.4,942.7 1421.0,912.3 1422.6,967.2 1424.2,921.9 1425.8,944.8 1427.4,917.5 1429.0,939.4 1430.6,918.1 1432.2,947.5 1433.8,913.8 1435.4,960.9 1437.0,921.3 1438.6,946.9" fill="none" stroke="#6a6ac2" stroke-width="2.6" stroke-linejoin="round" stroke-linecap="round" />
<polyline points="1297.0,915.6 1298.6,950.3 1300.2,916.0 1301.8,951.4 1303.4,912.5 1305.0,947.8 1306.6,908.3 1308.2,936.4 1309.8,912.0 1311.4,943.7 1313.0,915.2 1314.6,931.0 1316.2,914.8 1317.8,936.2 1319.4,907.9 1321.0,941.7 1322.6,915.4 1324.2,949.2 1325.8,911.7 1327.4,942.2 1329.0,908.6 1330.6,936.2 1332.2,913.8 1333.8,943.0 1335.4,907.4 1337.0,943.4 1338.6,907.9 1340.2,956.4 1341.8,906.3 1343.4,940.1 1345.0,911.2 1346.6,943.2 1348.2,915.2 1349.8,937.5 1351.4,911.8 1353.0,941.9 1354.6,911.4 1356.2,943.5 1357.8,911.3" fill="none" stroke="#3434a6" stroke-width="2.6" stroke-linejoin="round" stroke-linecap="round" />
<polyline points="1326.0,910.0 1327.0,898.0 1332.0,883.0 1341.0,877.8 1347.0,876.0" fill="none" stroke="#6a6ac2" stroke-width="2.6" stroke-linejoin="round" stroke-linecap="round" />
<polyline points="1293.5,876.5 1320.0,877.0 1347.4,877.5 1372.0,878.0 1401.5,878.0 1425.0,875.0 1445.0,870.5 1467.0,863.5 1489.0,855.0 1510.0,846.0 1530.0,838.0 1547.0,832.5 1563.0,829.0" fill="none" stroke="#6a6ac2" stroke-width="2.8" stroke-linejoin="round" stroke-linecap="round" />
<polyline points="1348.6,877.5 1348.6,845.5 1355.5,843.5 1364.3,845.5 1390.0,841.0 1420.0,837.5 1450.0,834.0 1490.0,830.0 1520.0,828.0 1550.0,826.0 1563.0,825.0" fill="none" stroke="#6a6ac2" stroke-width="2.6" stroke-linejoin="round" stroke-linecap="round" />
<polyline points="1356.0,911.0 1379.0,903.0 1398.0,893.0 1406.0,888.0 1406.0,840.0 1420.0,838.5 1450.0,835.0 1490.0,831.0 1520.0,829.0 1551.0,828.0" fill="none" stroke="#6a6ac2" stroke-width="2.6" stroke-linejoin="round" stroke-linecap="round" />
<polyline points="1436.0,935.0 1440.0,930.0 1442.0,922.0 1449.0,905.0 1456.0,892.0 1460.0,916.0 1466.0,906.0 1470.0,904.0 1474.0,909.0 1478.0,910.0 1482.0,902.0 1486.0,898.0 1490.5,895.0 1490.5,822.0 1520.0,820.0 1550.0,818.0 1575.0,816.5 1591.3,814.4 1591.3,778.0" fill="none" stroke="#6a6ac2" stroke-width="2.8" stroke-linejoin="round" stroke-linecap="round" />
<polyline points="1325.7,912.0 1325.7,898.2 1353.7,893.1 1392.0,885.5 1420.0,881.7 1450.0,877.5 1470.0,873.0 1490.0,867.5 1511.0,858.5 1530.0,850.0 1545.0,840.5 1556.4,835.7 1564.6,830.8 1572.8,824.3 1589.2,820.2 1600.0,822.5 1613.8,822.6 1626.5,821.0 1626.5,764.0" fill="none" stroke="#3434a6" stroke-width="3.4" stroke-linejoin="round" stroke-linecap="round" />
<line x1="1551.0" y1="795.0" x2="1551.0" y2="842.0" stroke="#6a6ac2" stroke-width="2.6" />
<line x1="1563.0" y1="787.0" x2="1563.0" y2="832.0" stroke="#3434a6" stroke-width="3.0" />
<polygon points="1293.8,964.0 1295.0,940.0 1297.0,912.0 1301.0,882.0 1305.0,864.0 1309.0,851.0 1317.3,838.0 1328.7,826.0 1340.0,817.0 1350.0,810.0 1360.8,803.5 1377.4,801.0 1399.2,799.8 1420.0,798.8 1459.8,796.8 1500.0,794.0 1547.2,789.5 1560.0,787.5 1560.0,793.0 1547.2,795.0 1520.0,800.0 1489.0,806.0 1460.0,811.0 1430.0,815.0 1401.5,818.5 1380.0,817.5 1360.8,817.5 1345.0,822.0 1335.0,830.0 1325.0,842.0 1318.0,858.0 1312.0,876.0 1306.0,900.0 1301.0,930.0 1297.0,970.0" fill="#ec1c2c" />
<path d="M1298.0,962.0 C1298.5,956.7 1299.8,940.0 1301.0,930.0 C1302.2,920.0 1303.5,910.3 1305.0,902.0 C1306.5,893.7 1308.0,887.0 1310.0,880.0 C1312.0,873.0 1314.3,866.2 1317.0,860.0 C1319.7,853.8 1322.5,848.0 1326.0,843.0 C1329.5,838.0 1333.7,833.8 1338.0,830.0 C1342.3,826.2 1347.0,822.9 1352.0,820.0 C1357.0,817.1 1361.7,814.2 1368.0,812.5 C1374.3,810.8 1381.3,810.2 1390.0,809.5 C1398.7,808.8 1415.0,808.7 1420.0,808.5" fill="none" stroke="#f8a0b0" stroke-width="1.3" stroke-linecap="round" stroke-linejoin="round" />
<path d="M1300.0,968.0 C1300.7,962.5 1302.5,945.5 1304.0,935.0 C1305.5,924.5 1307.2,913.8 1309.0,905.0 C1310.8,896.2 1312.7,889.2 1315.0,882.0 C1317.3,874.8 1320.0,868.0 1323.0,862.0 C1326.0,856.0 1331.3,848.7 1333.0,846.0" fill="none" stroke="#fde0e6" stroke-width="1.0" stroke-linecap="round" stroke-linejoin="round" />
<path d="M1400.0,812.0 C1405.0,811.8 1420.0,812.0 1430.0,811.0 C1440.0,810.0 1450.0,807.7 1460.0,806.0 C1470.0,804.3 1480.0,802.5 1490.0,801.0 C1500.0,799.5 1515.0,797.7 1520.0,797.0" fill="none" stroke="#f26a80" stroke-width="1.6" stroke-linecap="round" stroke-linejoin="round" />
<path d="M1540.0,790.5 C1543.3,790.0 1553.9,788.8 1560.0,787.5 C1566.1,786.2 1571.4,784.2 1576.4,782.5 C1581.4,780.8 1585.2,779.3 1590.0,777.5 C1594.8,775.7 1600.8,773.6 1605.5,771.8 C1610.2,770.0 1614.5,768.0 1618.0,766.5 C1621.5,765.0 1625.1,763.2 1626.5,762.5" fill="none" stroke="#ec1c2c" stroke-width="4.2" stroke-linecap="round" stroke-linejoin="round" />
<line x1="1627.2" y1="765.0" x2="1627.2" y2="686.0" stroke="#ec1c2c" stroke-width="3.2" />
<line x1="1551.0" y1="686.0" x2="1551.0" y2="795.0" stroke="#b3309c" stroke-width="3.0" />
<line x1="1563.0" y1="686.0" x2="1563.0" y2="787.0" stroke="#b3309c" stroke-width="6.0" />
<line x1="1591.3" y1="686.0" x2="1591.3" y2="779.0" stroke="#b3309c" stroke-width="3.4" />
<line x1="1625.8" y1="826.0" x2="1625.8" y2="997.0" stroke="#666" stroke-width="1.4" stroke-dasharray="4,3"/>
<rect x="1292.8" y="685.6" width="389.79999999999995" height="313.19999999999993" fill="none" stroke="#222" stroke-width="2.4"/>
<path d="M1292.8,967.5h4.5M1292.8,936.2h4.5M1292.8,904.8h4.5M1292.8,873.5h4.5M1292.8,842.2h4.5M1292.8,810.9h4.5M1292.8,779.6h4.5M1292.8,748.2h4.5M1292.8,716.9h4.5M1292.8,989.4h2.5M1292.8,983.9h2.5M1292.8,979.9h2.5M1292.8,976.9h2.5M1292.8,974.4h2.5M1292.8,972.3h2.5M1292.8,970.5h2.5M1292.8,968.9h2.5M1292.8,958.1h2.5M1292.8,952.5h2.5M1292.8,948.6h2.5M1292.8,945.6h2.5M1292.8,943.1h2.5M1292.8,941.0h2.5M1292.8,939.2h2.5M1292.8,937.6h2.5M1292.8,926.7h2.5M1292.8,921.2h2.5M1292.8,917.3h2.5M1292.8,914.3h2.5M1292.8,911.8h2.5M1292.8,909.7h2.5M1292.8,907.9h2.5M1292.8,906.3h2.5M1292.8,895.4h2.5M1292.8,889.9h2.5M1292.8,886.0h2.5M1292.8,882.9h2.5M1292.8,880.5h2.5M1292.8,878.4h2.5M1292.8,876.6h2.5M1292.8,875.0h2.5M1292.8,864.1h2.5M1292.8,858.6h2.5M1292.8,854.7h2.5M1292.8,851.6h2.5M1292.8,849.1h2.5M1292.8,847.1h2.5M1292.8,845.2h2.5M1292.8,843.6h2.5M1292.8,832.8h2.5M1292.8,827.3h2.5M1292.8,823.3h2.5M1292.8,820.3h2.5M1292.8,817.8h2.5M1292.8,815.7h2.5M1292.8,813.9h2.5M1292.8,812.3h2.5M1292.8,801.5h2.5M1292.8,795.9h2.5M1292.8,792.0h2.5M1292.8,789.0h2.5M1292.8,786.5h2.5M1292.8,784.4h2.5M1292.8,782.6h2.5M1292.8,781.0h2.5M1292.8,770.1h2.5M1292.8,764.6h2.5M1292.8,760.7h2.5M1292.8,757.7h2.5M1292.8,755.2h2.5M1292.8,753.1h2.5M1292.8,751.3h2.5M1292.8,749.7h2.5M1292.8,738.8h2.5M1292.8,733.3h2.5M1292.8,729.4h2.5M1292.8,726.3h2.5M1292.8,723.9h2.5M1292.8,721.8h2.5M1292.8,720.0h2.5M1292.8,718.4h2.5M1292.8,707.5h2.5M1292.8,702.0h2.5M1292.8,698.1h2.5M1292.8,695.0h2.5M1292.8,692.5h2.5M1292.8,690.5h2.5M1292.8,688.6h2.5M1292.8,687.0h2.5M1390.4,998.8v-4.5M1488.2,998.8v-4.5M1586.1,998.8v-4.5M1341.4,998.8v-2.5M1439.3,998.8v-2.5M1537.2,998.8v-2.5M1635.0,998.8v-2.5" stroke="#222" stroke-width="1.8" fill="none"/>
<text x="1286.5" y="695.2" font-size="25" font-weight="normal" font-style="normal" text-anchor="end" fill="#222" stroke="#222" stroke-width="0.5">10<tspan font-size="14.5" baseline-shift="10">3</tspan></text>
<text x="1286.5" y="757.84" font-size="25" font-weight="normal" font-style="normal" text-anchor="end" fill="#222" stroke="#222" stroke-width="0.5">10<tspan font-size="14.5" baseline-shift="10">1</tspan></text>
<text x="1286.5" y="820.48" font-size="25" font-weight="normal" font-style="normal" text-anchor="end" fill="#222" stroke="#222" stroke-width="0.5">10<tspan font-size="14.5" baseline-shift="10">-1</tspan></text>
<text x="1286.5" y="883.12" font-size="25" font-weight="normal" font-style="normal" text-anchor="end" fill="#222" stroke="#222" stroke-width="0.5">10<tspan font-size="14.5" baseline-shift="10">-3</tspan></text>
<text x="1286.5" y="945.7600000000001" font-size="25" font-weight="normal" font-style="normal" text-anchor="end" fill="#222" stroke="#222" stroke-width="0.5">10<tspan font-size="14.5" baseline-shift="10">-5</tspan></text>
<text x="1286.5" y="1008.4" font-size="25" font-weight="normal" font-style="normal" text-anchor="end" fill="#222" stroke="#222" stroke-width="0.5">10<tspan font-size="14.5" baseline-shift="10">-7</tspan></text>
<g clip-path="url(#fclip)">
<text x="1292.5" y="1026.2" font-size="25" font-weight="normal" font-style="normal" text-anchor="middle" fill="#222" stroke="#222" stroke-width="0.5">0</text>
<text x="1390.36" y="1026.2" font-size="25" font-weight="normal" font-style="normal" text-anchor="middle" fill="#222" stroke="#222" stroke-width="0.5">300</text>
<text x="1488.22" y="1026.2" font-size="25" font-weight="normal" font-style="normal" text-anchor="middle" fill="#222" stroke="#222" stroke-width="0.5">600</text>
<text x="1586.08" y="1026.2" font-size="25" font-weight="normal" font-style="normal" text-anchor="middle" fill="#222" stroke="#222" stroke-width="0.5">900</text>
<text x="1683.94" y="1026.2" font-size="25" font-weight="normal" font-style="normal" text-anchor="middle" fill="#222" stroke="#222" stroke-width="0.5">1200</text>
</g>
<text x="1447" y="1051.8" font-size="24.5" font-weight="normal" font-style="normal" text-anchor="start" fill="#222" stroke="#222" stroke-width="0.5"><tspan font-style="italic">V</tspan><tspan font-size="18" baseline-shift="-7.5" font-style="normal">DS</tspan> (V)</text>
<text x="1233" y="975.5" font-size="25.2" font-weight="normal" font-style="normal" text-anchor="start" fill="#222" transform="rotate(-90 1233 975.5)" stroke="#222" stroke-width="0.5">Current Density (A/cm<tspan font-size="15.5" baseline-shift="10.5">2</tspan>)</text>
<line x1="1304.7" y1="715.8" x2="1364.8" y2="715.8" stroke="#ef3a55" stroke-width="5.0" />
<line x1="1304.7" y1="749.8" x2="1364.8" y2="749.8" stroke="#6262c0" stroke-width="4.0" />
<text x="1370.5" y="724.5" font-size="25.2" font-weight="normal" font-style="normal" text-anchor="start" fill="#222" stroke="#222" stroke-width="0.5"><tspan font-style="italic">I</tspan><tspan font-size="17.5" baseline-shift="-7" font-style="normal">D</tspan> UMOS B</text>
<text x="1370.5" y="758.8" font-size="25.2" font-weight="normal" font-style="normal" text-anchor="start" fill="#222" stroke="#222" stroke-width="0.5"><tspan font-style="italic">I</tspan><tspan font-size="17.5" baseline-shift="-7" font-style="normal">G</tspan></text>
<text x="1507.5" y="919.5" font-size="25.2" font-weight="normal" font-style="normal" text-anchor="start" fill="#222" stroke="#222" stroke-width="0.5"><tspan font-style="italic">V</tspan><tspan font-size="17.5" baseline-shift="-6.5" font-style="normal">br</tspan> = 1028 V</text>
<polygon points="69.5,487.8 575.3,487.8 570.4,520.2 74.5,520.2" fill="#eeb100" />
<polygon points="58.8,417.8 585.7,417.8 575.3,487.8 69.5,487.8" fill="#0ea3de" />
<polygon points="43.4,316.8 600.8,316.8 585.7,417.8 58.8,417.8" fill="#a7dbef" />
<polygon points="33.0,248.6 611.0,248.6 600.8,316.8 43.4,316.8" fill="#e8e4e9" />
<polygon points="27.5,212.8 616.4,212.8 611.0,248.6 33.0,248.6" fill="#0a66b8" />
<line x1="33.1" y1="249.2" x2="610.9" y2="249.2" stroke="#d8e8f4" stroke-width="1.5" />
<polygon points="26.2,204.0 617.7,204.0 616.4,212.8 27.5,212.8" fill="#c9e3bf" />
<polygon points="26.2,204.0 121.0,81.5 249.0,81.5 216.0,204.0" fill="#d3ebc9" />
<polygon points="617.7,204.0 519.3,81.5 396.0,81.5 430.0,204.0" fill="#d3ebc9" />
<polygon points="224.6,204.0 232.5,204.0 232.5,349.0 413.0,349.0 413.0,204.0 419.7,204.0 419.7,357.0 224.6,357.0" fill="#c4dbb0" />
<polygon points="232.5,183.0 413.0,183.0 413.0,349.0 232.5,349.0" fill="#fde9a2" />
<polygon points="232.5,194.7 244.6,194.7 249.6,341.0 396.0,341.0 400.8,195.0 413.0,195.0 413.0,349.0 232.5,349.0" fill="#fae39a" />
<polygon points="215.5,194.7 244.6,194.7 244.6,204.0 215.5,204.0" fill="#f9e196" />
<polygon points="400.8,195.2 432.0,195.2 432.0,204.0 400.8,204.0" fill="#f9e196" />
<polygon points="248.3,74.6 268.3,74.6 244.6,194.7 215.5,194.7" fill="#fde7a2" />
<polygon points="376.7,76.0 396.4,76.0 432.0,195.2 398.8,195.2" fill="#fde7a2" />
<polygon points="265.6,74.6 269.2,74.6 271.0,187.5 259.6,250.0 249.6,337.0 244.9,250.0 242.8,187.5" fill="#c2a56c" />
<polygon points="375.5,76.0 378.5,76.0 401.3,192.8 399.8,250.0 395.9,337.0 384.3,250.0 374.3,183.0" fill="#b99c62" />
<polygon points="64.1,183.9 187.2,183.9 187.2,205.0 64.1,205.0" fill="#f2b600" />
<polygon points="74.0,205.0 175.0,205.0 175.0,212.8 74.0,212.8" fill="#f2b600" />
<polygon points="182.3,183.9 227.8,67.7 229.5,68.5 229.5,80.0 188.0,195.0 187.2,205.0" fill="#d99a00" />
<polygon points="64.9,183.9 147.0,67.7 227.8,67.7 182.3,183.9" fill="#fdc300" />
<polygon points="458.0,184.5 582.0,184.5 582.0,202.6 458.0,202.6" fill="#f2b600" />
<polygon points="470.0,202.6 572.0,202.6 572.0,212.8 470.0,212.8" fill="#f2b600" />
<polygon points="462.8,185.4 418.5,68.6 416.5,69.5 416.5,82.0 456.0,195.0 458.0,202.6" fill="#d99a00" />
<polygon points="418.5,68.6 499.7,68.6 580.8,185.4 462.8,185.4" fill="#fdc300" />
<text x="115" y="209" font-size="26" font-weight="bold" font-style="normal" text-anchor="start" fill="#000" >S</text>
<text x="513.5" y="209" font-size="26" font-weight="bold" font-style="normal" text-anchor="start" fill="#000" >S</text>
<text x="111.5" y="240.7" font-size="28" font-weight="bold" font-style="normal" text-anchor="start" fill="#fff" >n<tspan font-size="17" baseline-shift="11.5">++</tspan></text>
<text x="496.5" y="240.7" font-size="28" font-weight="bold" font-style="normal" text-anchor="start" fill="#fff" >n<tspan font-size="17" baseline-shift="11.5">++</tspan></text>
<text x="70.3" y="288.7" font-size="23.9" font-weight="bold" font-style="normal" text-anchor="start" fill="#000" >N implanted</text>
<text x="436.3" y="291.5" font-size="23.9" font-weight="bold" font-style="normal" text-anchor="start" fill="#000" >N implanted</text>
<text x="288.8" y="273.8" font-size="26.4" font-weight="bold" font-style="normal" text-anchor="start" fill="#000" >Gate</text>
<text x="278" y="357.9" font-size="26.3" font-weight="bold" font-style="normal" text-anchor="start" fill="#000" >Al<tspan font-size="17.5" baseline-shift="-6" font-style="normal">2</tspan>O<tspan font-size="17.5" baseline-shift="-6" font-style="normal">3</tspan></text>
<text x="211.3" y="399.3" font-size="26.7" font-weight="bold" font-style="normal" text-anchor="start" fill="#000" >β-Ga<tspan font-size="18" baseline-shift="-6" font-style="normal">2</tspan>O<tspan font-size="18" baseline-shift="-6" font-style="normal">3</tspan> drift layer</text>
<text x="208.3" y="461" font-size="26.7" font-weight="bold" font-style="normal" text-anchor="start" fill="#000" >β-Ga<tspan font-size="18" baseline-shift="-6" font-style="normal">2</tspan>O<tspan font-size="18" baseline-shift="-6" font-style="normal">3</tspan> substrate</text>
<text x="309.5" y="514" font-size="24" font-weight="bold" font-style="normal" text-anchor="start" fill="#000" >D</text>
<polygon points="458.5,1059.3 562.0,949.8 562.0,980.4 458.5,1089.9" fill="#dc9e00" />
<polygon points="458.5,1003.9 562.0,894.4 562.0,949.8 458.5,1059.3" fill="#0887c0" />
<polygon points="458.5,901.0 562.0,791.5 562.0,894.4 458.5,1003.9" fill="#219cc9" />
<polygon points="458.5,840.0 562.0,730.5 562.0,791.5 458.5,901.0" fill="#a9aeb7" />
<polygon points="458.5,811.5 562.0,702.0 562.0,730.5 458.5,840.0" fill="#0c5ea6" />
<polygon points="458.5,783.0 562.0,673.5 562.0,702.0 458.5,811.5" fill="#d99a05" />
<polygon points="458.5,759.0 561.6,647.1 561.6,676.5 458.5,786.0" fill="#cfa748" />
<polygon points="76.4,974.3 458.5,1059.3 458.5,1089.9 76.4,1004.9" fill="#fbbf00" />
<polygon points="76.4,918.9 458.5,1003.9 458.5,1059.3 76.4,974.3" fill="#17ade4" />
<polygon points="76.4,815.8 458.5,900.8 458.5,1003.9 76.4,918.9" fill="#62c8ef" />
<polygon points="222.8,732.6 311.9,752.4 311.9,885.4 222.8,865.6" fill="#b9b7bf" />
<polygon points="76.4,752.0 222.8,784.6 222.8,848.4 76.4,815.8" fill="#e8f4fb" />
<polygon points="311.9,807.4 458.5,840.0 458.5,901.0 311.9,868.4" fill="#e8f4fb" />
<polygon points="76.4,722.6 222.8,755.2 222.8,784.6 76.4,752.0" fill="#0a78c2" />
<polygon points="311.9,778.9 458.5,811.5 458.5,840.0 311.9,807.4" fill="#0a78c2" />
<polygon points="142.0,683.1 245.9,571.8 245.9,590.0 270.5,594.6 270.5,620.6 293.0,625.1 302.9,614.6 198.8,727.3 198.8,742.0 222.8,747.6 222.8,755.2 154.0,739.9 154.0,716.8 142.0,714.1" fill="#c5c4cb" />
<polygon points="142.0,683.1 245.9,571.8 245.9,590.0 142.0,701.3" fill="#d2a73c" />
<polygon points="142.0,701.3 245.9,589.5 270.5,595.5 167.0,705.3" fill="#c8c7ce" />
<polygon points="270.5,595.5 270.5,620.6 167.0,730.1 167.0,705.3" fill="#88848d" />
<polygon points="270.5,620.6 293.0,625.1 199.5,733.8 167.0,730.1" fill="#c2c1c8" />
<polygon points="154.0,723.3 167.0,726.2 167.0,730.1 222.8,742.5 222.8,755.2 154.0,739.9" fill="#bbbac1" />
<polygon points="76.4,699.5 154.0,716.8 154.0,739.9 76.4,722.6" fill="#fdc700" />
<polygon points="76.4,668.5 142.0,683.1 142.0,714.1 76.4,699.5" fill="#f7dc82" />
<polygon points="76.4,668.5 142.0,683.1 245.5,573.6 179.9,559.0" fill="#f1d68b" />
<polygon points="251.0,738.2 354.5,628.7 354.5,669.6 282.8,745.5 282.8,810.2 251.0,843.8" fill="#c99f3e" />
<polygon points="198.8,727.3 251.0,738.2 354.5,628.7 302.3,617.8" fill="#f2d88a" />
<polygon points="336.0,757.3 439.5,647.8 440.7,661.0 453.0,663.4 472.6,642.1 484.1,644.6 499.0,630.5 396.0,746.0 396.0,770.6 379.6,767.0 379.6,794.0 311.9,778.9 311.9,768.4 336.6,772.5" fill="#c5c4cb" />
<polygon points="453.0,663.4 472.6,642.1 484.1,644.6 390.0,745.0 372.0,757.0" fill="#cbcad0" />
<polygon points="311.9,768.4 379.6,783.5 379.6,794.0 311.9,778.9" fill="#bbbac1" />
<polygon points="336.0,757.3 439.5,647.8 439.5,660.9 336.0,770.4" fill="#cfa543" />
<polygon points="282.8,745.5 336.0,757.3 439.5,647.8 386.3,636.0" fill="#f2d88a" />
<polygon points="198.8,727.3 251.0,738.2 251.0,843.8 282.8,850.9 282.8,745.5 336.0,757.3 336.0,770.4 300.4,768.8 300.4,877.0 233.7,863.5 233.7,744.0 198.8,741.5" fill="#fde24c" />
<polygon points="251.0,843.8 282.8,810.2 282.8,850.9" fill="#f7e48e" />
<polygon points="233.7,840.0 300.4,848.0 300.4,877.0 233.7,863.5" fill="#fde24c" />
<polygon points="379.6,767.0 458.5,784.5 458.5,811.5 379.6,794.0" fill="#fdc700" />
<polygon points="393.5,743.1 458.5,757.5 458.5,784.5 393.5,770.1" fill="#f7dc82" />
<polygon points="393.5,744.6 458.5,759.0 561.6,647.1 497.2,631.5" fill="#f1d68b" />
<text x="0" y="0" font-size="27.5" font-weight="normal" fill="#000" stroke="#000" stroke-width="0.35" transform="translate(83.0 696.4) skewY(12.54)">Pad</text>
<text x="0" y="0" font-size="28.5" font-weight="normal" fill="#000" stroke="#000" stroke-width="0.35" transform="translate(105.0 728.5) skewY(12.54)">S</text>
<text x="0" y="0" font-size="26" font-weight="normal" fill="#fff" stroke="#fff" stroke-width="0.35" transform="translate(130.0 760) skewY(12.54)">n<tspan font-size="18" baseline-shift="10">++</tspan></text>
<text x="0" y="0" font-size="28.5" font-weight="normal" fill="#000" stroke="#000" stroke-width="0.35" transform="translate(139.0 789.5) skewY(12.54)">N</text>
<text x="0" y="0" font-size="29" font-weight="normal" fill="#000" stroke="#000" stroke-width="0.35" transform="translate(85.5 813) skewY(12.54)">Implanted</text>
<text x="0" y="0" font-size="28" font-weight="normal" fill="#000" stroke="#000" stroke-width="0.35" transform="translate(258.0 847) skewY(12.54)">G</text>
<text x="0" y="0" font-size="28" font-weight="normal" fill="#000" stroke="#000" stroke-width="0.35" transform="translate(234 870) skewY(12.54)">Al<tspan font-size="19" baseline-shift="-6" font-style="normal">2</tspan>O<tspan font-size="19" baseline-shift="-6" font-style="normal">3</tspan></text>
<text x="0" y="0" font-size="27.5" font-weight="normal" fill="#000" stroke="#000" stroke-width="0.35" transform="translate(399.5 770) skewY(12.54)">Pad</text>
<text x="0" y="0" font-size="28.5" font-weight="normal" fill="#000" stroke="#000" stroke-width="0.35" transform="translate(410.0 801) skewY(12.54)">S</text>
<text x="0" y="0" font-size="26" font-weight="normal" fill="#fff" stroke="#fff" stroke-width="0.35" transform="translate(365.5 817.5) skewY(12.54)">n<tspan font-size="18" baseline-shift="10">++</tspan></text>
<text x="0" y="0" font-size="28.5" font-weight="normal" fill="#000" stroke="#000" stroke-width="0.35" transform="translate(375.0 848) skewY(12.54)">N</text>
<text x="0" y="0" font-size="29" font-weight="normal" fill="#000" stroke="#000" stroke-width="0.35" transform="translate(321.0 869.5) skewY(12.54)">Implanted</text>
<text x="0" y="0" font-size="29.2" font-weight="normal" fill="#000" stroke="#000" stroke-width="0.35" transform="translate(129.5 891) skewY(12.54)">n<tspan font-size="19" baseline-shift="11">−</tspan> <tspan font-style="italic">β</tspan>-Ga<tspan font-size="20" baseline-shift="-7" font-style="normal">2</tspan>O<tspan font-size="20" baseline-shift="-7" font-style="normal">3</tspan> drift layer</text>
<text x="0" y="0" font-size="29.2" font-weight="normal" fill="#000" stroke="#000" stroke-width="0.35" transform="translate(129.5 972) skewY(12.54)">n<tspan font-size="19" baseline-shift="11">+</tspan> <tspan font-style="italic">β</tspan>-Ga<tspan font-size="20" baseline-shift="-7" font-style="normal">2</tspan>O<tspan font-size="20" baseline-shift="-7" font-style="normal">3</tspan> substrate</text>
<text x="0" y="0" font-size="28" font-weight="normal" fill="#000" stroke="#000" stroke-width="0.35" transform="translate(256 1038) skewY(12.54)">D</text>
<text x="-0.2" y="92.95" font-size="56" font-weight="normal" font-style="normal" text-anchor="start" fill="#000" letter-spacing="0.5">(a)</text>
<text x="626.6" y="90.6" font-size="56" font-weight="normal" font-style="normal" text-anchor="start" fill="#000" letter-spacing="0.5">(b)</text>
<text x="1124.8" y="79.35" font-size="56" font-weight="normal" font-style="normal" text-anchor="start" fill="#000" letter-spacing="0.5">(c)</text>
<text x="7.1" y="625.3" font-size="56" font-weight="normal" font-style="normal" text-anchor="start" fill="#000" letter-spacing="0.5">(d)</text>
<text x="639.1" y="623.15" font-size="56" font-weight="normal" font-style="normal" text-anchor="start" fill="#000" letter-spacing="0.5">(e)</text>
<text x="1206.2" y="626.95" font-size="56" font-weight="normal" font-style="normal" text-anchor="start" fill="#000" letter-spacing="0.5">(f)</text>
</svg>
</body></html>
